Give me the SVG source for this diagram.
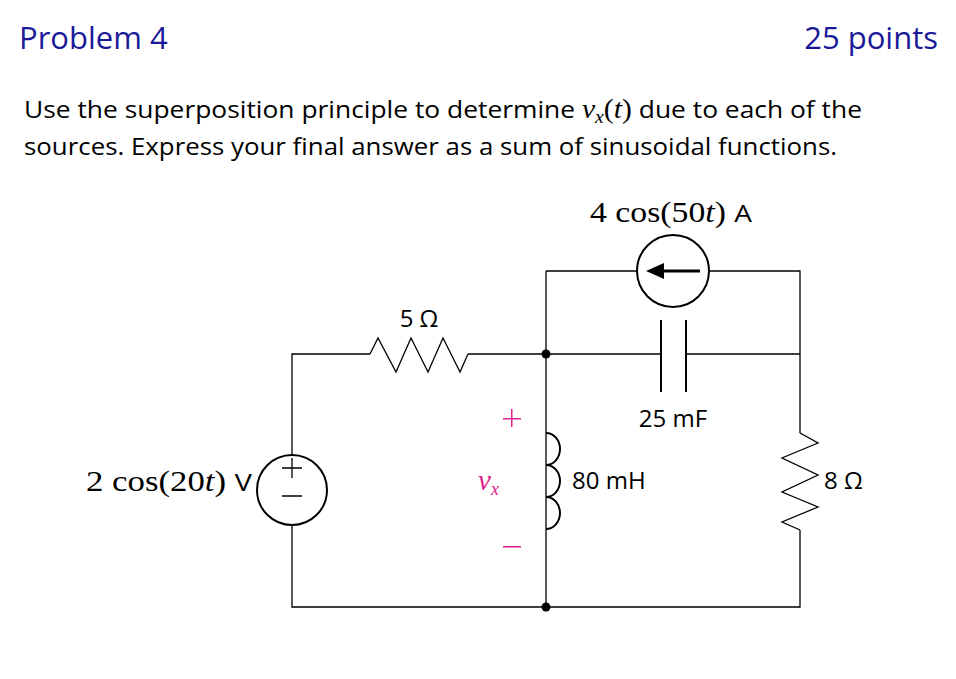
<svg xmlns="http://www.w3.org/2000/svg" width="956" height="679" viewBox="0 0 956 679">
<style>
.w{stroke:#000;stroke-width:1.3;fill:none}
.c{stroke:#000;stroke-width:2;fill:none}
.t{font-family:"Open Sans","Liberation Sans",sans-serif;font-size:24px;fill:#000}
.h{font-family:"Open Sans","Liberation Sans",sans-serif;font-size:31px;fill:#1a1a99}
.m{font-family:"Liberation Serif",serif;font-size:29px;fill:#000}
.p{fill:#e0208a}
</style>
<rect width="956" height="679" fill="#fff"/>
<text class="h" x="19" y="49">Problem 4</text>
<text class="h" x="938" y="49" text-anchor="end">25 points</text>
<text class="t" x="24" y="118" textLength="838" lengthAdjust="spacingAndGlyphs">Use the superposition principle to determine <tspan font-family="Liberation Serif" font-style="italic" font-size="27">v</tspan><tspan font-family="Liberation Serif" font-style="italic" font-size="18" dy="5">x</tspan><tspan font-family="Liberation Serif" font-size="27" dy="-5">(<tspan font-style="italic">t</tspan>)</tspan> due to each of the</text>
<text class="t" x="24" y="155" textLength="813" lengthAdjust="spacingAndGlyphs">sources. Express your final answer as a sum of sinusoidal functions.</text>
<g id="wires">
<path class="w" d="M292,455V354H370 M468,354H661 M686,354H800 M546,271V607 M546,271H637 M709,271H800V433 M800,530V607H292V525"/>
</g>
<g id="node1"><circle cx="546" cy="354" r="4.5"/></g>
<g id="node2"><circle cx="546" cy="607" r="4.5"/></g>
<g id="R5"><polyline class="w" points="370,354 378,338 396,372 411,338 428,372 443,338 460,372 468,354"/>
<text class="t" x="419" y="327" text-anchor="middle">5 Ω</text></g>
<g id="Isrc"><circle class="c" cx="673" cy="271" r="36"/>
<path d="M700,271H660" stroke="#000" stroke-width="3"/><path d="M646,271L664,263L664,279Z"/>
<text class="m" x="590" y="222" textLength="162" lengthAdjust="spacingAndGlyphs">4 cos(50<tspan font-style="italic">t</tspan>) <tspan font-family="Open Sans,Liberation Sans,sans-serif" font-size="24">A</tspan></text></g>
<g id="C"><path class="c" d="M661,320V392 M686,320V392"/>
<text class="t" x="673" y="427" text-anchor="middle">25 mF</text></g>
<g id="L"><path class="c" d="M546,433 a14,16 0 0 1 0,32 a14,16 0 0 1 0,32 a14,16 0 0 1 0,32" />
<text class="t" x="572" y="489">80 mH</text>
<path class="p" d="M503,418h18v1.5h-18z M511,409h1.5v18h-1.5z M503,546h18v1.5h-18z"/>
<text class="m p" x="478" y="490" font-style="italic">v<tspan font-size="18" dy="5">x</tspan></text></g>
<g id="R8"><polyline class="w" points="800,433 818,443 782,458 818,475 782,492 818,507 782,522 800,530"/>
<text class="t" x="824" y="489">8 Ω</text></g>
<g id="Vsrc"><circle class="c" cx="292" cy="490" r="35"/>
<path class="w" d="M282,468h20 M292,458v20 M282,496h20"/>
<text class="m" x="86" y="491" textLength="166" lengthAdjust="spacingAndGlyphs">2 cos(20<tspan font-style="italic">t</tspan>) <tspan font-family="Open Sans,Liberation Sans,sans-serif" font-size="24">V</tspan></text></g>
</svg>
